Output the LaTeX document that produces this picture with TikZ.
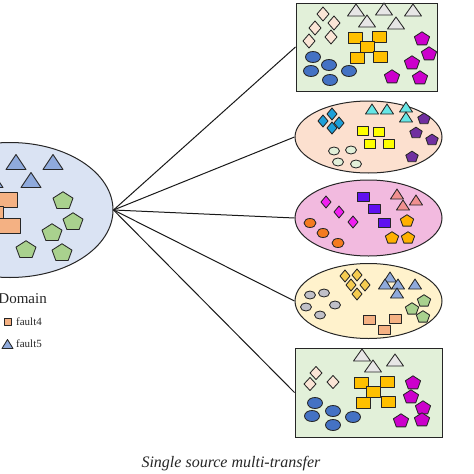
\documentclass[tikz,border=0pt]{standalone}
\usepackage{fontspec}
\setmainfont{Liberation Serif}
\usetikzlibrary{shapes.geometric}
\definecolor{srcblue}{HTML}{DAE3F3}
\definecolor{triblue}{HTML}{8FAADC}
\definecolor{sqorange}{HTML}{F4B183}
\definecolor{pgreen}{HTML}{A9D18E}
\definecolor{boxgreen}{HTML}{E2F0D9}
\definecolor{dpeach}{HTML}{FBE5D6}
\definecolor{tgray}{HTML}{E7E6E6}
\definecolor{gold}{HTML}{FFC000}
\definecolor{oblue}{HTML}{4472C4}
\definecolor{magen}{HTML}{CC00CC}
\definecolor{peachbg}{HTML}{FCE0CF}
\definecolor{dblue}{HTML}{1E9FD8}
\definecolor{cyant}{HTML}{66E6E6}
\definecolor{yelsq}{HTML}{FFFF00}
\definecolor{paleov}{HTML}{E2F0D9}
\definecolor{purp}{HTML}{7030A0}
\definecolor{pinkbg}{HTML}{F2BADF}
\definecolor{magdia}{HTML}{F020F0}
\definecolor{violsq}{HTML}{6010F0}
\definecolor{salmtri}{HTML}{F09090}
\definecolor{orov}{HTML}{F47B20}
\definecolor{goldpent}{HTML}{FFB000}
\definecolor{yelbg}{HTML}{FFF2CC}
\definecolor{golddia}{HTML}{F5CC50}
\definecolor{grayov}{HTML}{C0C0C8}
\tikzset{
  shp/.style={draw=black!85, line width=0.85pt, line join=round},
  bigell/.style={ellipse, draw=black!85, line width=1pt, inner sep=0pt},
  bigbox/.style={rectangle, draw=black!85, line width=1pt, inner sep=0pt, fill=boxgreen},
  link/.style={draw=black!90, line width=1pt},
  lbl/.style={inner sep=0pt, text=black!85}
}
\newcommand{\shTri}[5]{\draw[shp,fill=#1] (#2-#4/2,#3+#5/2) -- (#2+#4/2,#3+#5/2) -- (#2,#3-#5/2) -- cycle;}
\newcommand{\shSq}[5]{\draw[shp,fill=#1] (#2-#4/2,#3-#5/2) rectangle (#2+#4/2,#3+#5/2);}
\newcommand{\shOv}[5]{\draw[shp,fill=#1] (#2,#3) ellipse [x radius=#4pt, y radius=#5pt];}
\newcommand{\shDia}[5]{\draw[shp,fill=#1] (#2-#4/2,#3) -- (#2,#3-#5/2) -- (#2+#4/2,#3) -- (#2,#3+#5/2) -- cycle;}
\newcommand{\shPent}[5]{\draw[shp,fill=#1,shift={(#2,#3)},yscale=#5] (90:#4pt) -- (162:#4pt) -- (234:#4pt) -- (306:#4pt) -- (18:#4pt) -- cycle;}
\begin{document}
\begin{tikzpicture}[x=1pt,y=-1pt]
\useasboundingbox (0,0) rectangle (474,474);
\clip (0,0) rectangle (474,474);
% big containers
\node[bigell, fill=srcblue, minimum width=206pt, minimum height=135pt] (src) at (10,210) {};
\node[bigbox, minimum width=141pt, minimum height=88pt] (t1) at (366.5,47) {};
\node[bigell, fill=peachbg, minimum width=147pt, minimum height=72pt] (t2) at (368.5,137) {};
\node[bigell, fill=pinkbg, minimum width=147pt, minimum height=76pt] (t3) at (368.5,218) {};
\node[bigell, fill=yelbg, minimum width=147pt, minimum height=75pt] (t4) at (368.5,301) {};
\node[bigbox, minimum width=147pt, minimum height=89pt] (t5) at (368.5,392.5) {};
% connectors
\draw[link] (src.east) -- (t1.west);
\draw[link] (src.east) -- (t2.west);
\draw[link] (src.east) -- (t3.west);
\draw[link] (src.east) -- (t4.west);
\draw[link] (src.east) -- (t5.west);
% source contents
\shTri{triblue}{16}{162}{20}{15}
\shTri{triblue}{53}{162}{20}{15}
\shTri{triblue}{31}{180}{20}{15}
\shTri{triblue}{-7}{180}{20}{15}
\shSq{sqorange}{6}{199.5}{22}{15}
\shSq{sqorange}{-8}{214}{22}{15}
\shSq{sqorange}{9}{226}{22}{15}
\shPent{pgreen}{63}{201}{10.5}{0.88}
\shPent{pgreen}{73}{222}{10.5}{0.88}
\shPent{pgreen}{52}{233}{10.5}{0.88}
\shPent{pgreen}{26}{250}{10.5}{0.88}
\shPent{pgreen}{62}{253}{10.5}{0.88}
% target 1 (box)
\shDia{dpeach}{323}{14}{12}{14}
\shDia{dpeach}{334}{23}{12}{14}
\shDia{dpeach}{315}{28}{12}{14}
\shDia{dpeach}{331}{37}{12}{14}
\shDia{dpeach}{309}{41}{12}{14}
\shTri{tgray}{356}{10}{17}{12}
\shTri{tgray}{384}{9}{17}{12}
\shTri{tgray}{413}{10}{17}{12}
\shTri{tgray}{367}{21}{17}{12}
\shTri{tgray}{396}{23}{17}{12}
\shSq{gold}{355}{38}{14}{11}
\shSq{gold}{379}{37}{14}{11}
\shSq{gold}{367}{47}{14}{11}
\shSq{gold}{357}{58}{14}{11}
\shSq{gold}{380}{57}{14}{11}
\shOv{oblue}{313}{57}{7.5}{5.5}
\shOv{oblue}{329}{65}{7.5}{5.5}
\shOv{oblue}{311}{71}{7.5}{5.5}
\shOv{oblue}{349}{71}{7.5}{5.5}
\shOv{oblue}{330}{80}{7.5}{5.5}
\shPent{magen}{422}{39}{8}{0.9}
\shPent{magen}{429}{54}{8}{0.9}
\shPent{magen}{412}{63}{8}{0.9}
\shPent{magen}{392}{77}{8}{0.9}
\shPent{magen}{420}{78}{8}{0.9}
% target 2 (peach ellipse)
\shDia{dblue}{332}{114}{10}{12}
\shDia{dblue}{339}{123}{10}{12}
\shDia{dblue}{323}{121}{10}{12}
\shDia{dblue}{332}{128}{10}{12}
\shTri{cyant}{372}{109}{13}{10}
\shTri{cyant}{387}{109}{13}{10}
\shTri{cyant}{406}{107}{13}{10}
\shTri{cyant}{406}{117}{13}{10}
\shSq{yelsq}{363}{131}{11}{9}
\shSq{yelsq}{379}{132}{11}{9}
\shSq{yelsq}{370}{144}{11}{9}
\shSq{yelsq}{389}{144}{11}{9}
\shOv{paleov}{334}{151}{5.5}{4}
\shOv{paleov}{351}{150}{5.5}{4}
\shOv{paleov}{338}{162}{5.5}{4}
\shOv{paleov}{356}{164}{5.5}{4}
\shPent{purp}{424}{119}{6.5}{0.9}
\shPent{purp}{416}{133}{6.5}{0.9}
\shPent{purp}{432}{140}{6.5}{0.9}
\shPent{purp}{412}{157}{6.5}{0.9}
% target 3 (pink ellipse)
\shDia{magdia}{326}{202}{10}{12}
\shDia{magdia}{339}{212}{10}{12}
\shDia{magdia}{353}{222}{10}{12}
\shSq{violsq}{363}{197}{12}{9}
\shSq{violsq}{374}{209}{12}{9}
\shSq{violsq}{384}{223}{12}{9}
\shTri{salmtri}{397}{194}{13}{10}
\shTri{salmtri}{416}{200}{13}{10}
\shTri{salmtri}{403}{205}{13}{10}
\shOv{orov}{310}{223}{6}{4.5}
\shOv{orov}{323}{233}{6}{4.5}
\shOv{orov}{338}{243}{6}{4.5}
\shPent{goldpent}{407}{221}{7}{0.9}
\shPent{goldpent}{392}{238}{7}{0.9}
\shPent{goldpent}{408}{238}{7}{0.9}
% target 4 (yellow ellipse)
\shDia{golddia}{345}{276}{10}{12}
\shDia{golddia}{357}{275}{10}{12}
\shDia{golddia}{351}{285}{10}{12}
\shDia{golddia}{365}{285}{10}{12}
\shDia{golddia}{357}{294}{10}{12}
\shTri{triblue}{390}{277}{13}{10}
\shTri{triblue}{385}{284}{13}{10}
\shTri{triblue}{398}{284}{13}{10}
\shTri{triblue}{415}{284}{13}{10}
\shTri{triblue}{397}{293}{13}{10}
\shOv{grayov}{310}{295}{5.5}{4}
\shOv{grayov}{324}{293}{5.5}{4}
\shOv{grayov}{306}{307}{5.5}{4}
\shOv{grayov}{335}{305}{5.5}{4}
\shOv{grayov}{320}{315}{5.5}{4}
\shSq{sqorange}{369}{320}{12}{9}
\shSq{sqorange}{395}{319}{12}{9}
\shSq{sqorange}{384}{330}{12}{9}
\shPent{pgreen}{424}{301}{7}{0.9}
\shPent{pgreen}{412}{309}{7}{0.9}
\shPent{pgreen}{423}{317}{7}{0.9}
% target 5 (box)
\shDia{dpeach}{316}{373}{12}{13}
\shDia{dpeach}{310}{384}{12}{13}
\shDia{dpeach}{333}{382}{12}{13}
\shTri{tgray}{362}{355}{17}{12}
\shTri{tgray}{373}{366}{17}{12}
\shTri{tgray}{395}{360}{17}{12}
\shSq{gold}{361}{383}{14}{11}
\shSq{gold}{387}{382}{14}{11}
\shSq{gold}{373}{392}{14}{11}
\shSq{gold}{363}{403}{14}{11}
\shSq{gold}{388}{402}{14}{11}
\shOv{oblue}{315}{403}{7.5}{5.5}
\shOv{oblue}{333}{411}{7.5}{5.5}
\shOv{oblue}{312}{416}{7.5}{5.5}
\shOv{oblue}{353}{417}{7.5}{5.5}
\shOv{oblue}{333}{425}{7.5}{5.5}
\shPent{magen}{413}{383}{8}{0.9}
\shPent{magen}{411}{397}{8}{0.9}
\shPent{magen}{423}{408}{8}{0.9}
\shPent{magen}{401}{421}{8}{0.9}
\shPent{magen}{422}{420}{8}{0.9}
% legend and captions
\node[lbl, anchor=base east, font=\fontsize{15}{18}\selectfont] (dom) at (47,303) {Domain};
\shSq{sqorange}{7.5}{321.5}{7}{7}
\node[lbl, anchor=west, font=\fontsize{11}{13}\selectfont] (f4) at (16,322) {fault4};
\shTri{triblue}{7.5}{344}{11}{9}
\node[lbl, anchor=west, font=\fontsize{11}{13}\selectfont] (f5) at (16,344) {fault5};
\node[lbl, anchor=base, font=\fontsize{16}{19}\selectfont\itshape] (cap) at (231,467) {Single source multi-transfer};
\end{tikzpicture}
\end{document}
